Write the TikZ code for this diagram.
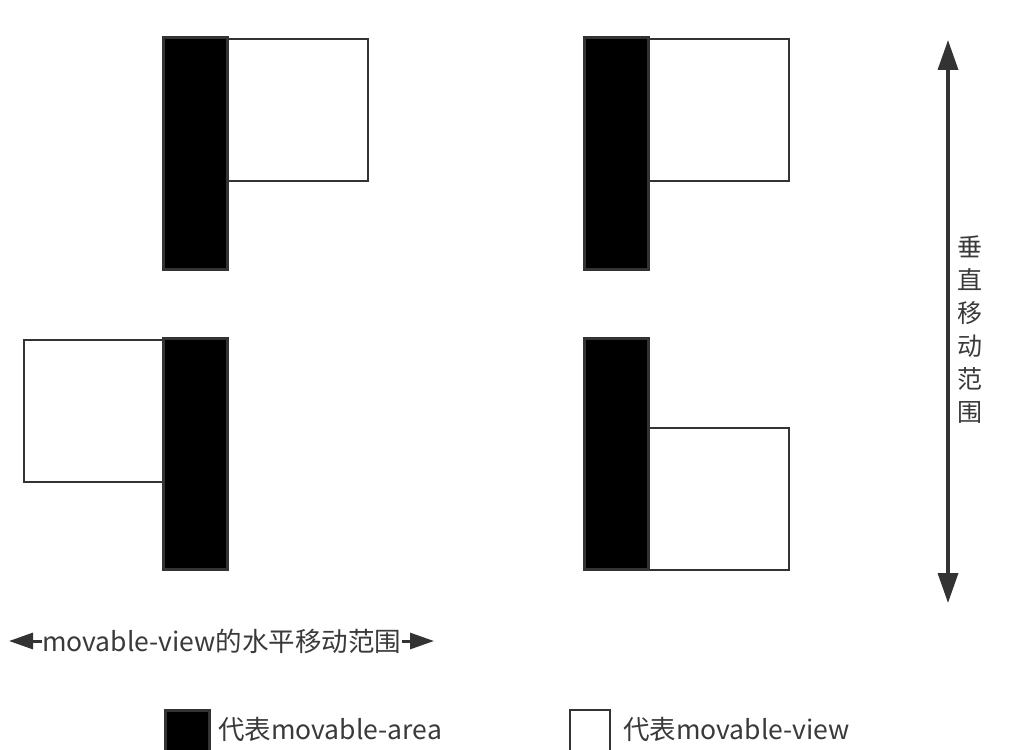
\documentclass[tikz,border=0pt]{standalone}
\usepackage{fontspec}
\setmainfont{Noto Sans CJK SC}
\usetikzlibrary{arrows.meta}
\definecolor{ink}{HTML}{333333}
\definecolor{txt}{HTML}{3A3A3A}
\tikzset{
  area/.style={draw=ink,line width=3pt,fill=black,inner sep=0pt,outer sep=0pt,minimum width=64pt,minimum height=231pt,anchor=north west},
  viewbox/.style={draw=ink,line width=1.6pt,fill=white,inner sep=0pt,outer sep=0pt,minimum width=141pt,minimum height=142pt,anchor=north west},
  lbl/.style={text=txt,font=\fontsize{26.5pt}{30pt}\selectfont,inner sep=0pt},
  bigarrow/.style={draw=ink,line width=3.5pt,{Triangle[length=30pt,width=20pt]}-{Triangle[length=30pt,width=20pt]}},
  smallhead/.style={draw=ink,line width=3pt,-{Triangle[length=24pt,width=16pt]}}
}
\begin{document}
\begin{tikzpicture}[x=1pt,y=-1pt]
\useasboundingbox (0,0) rectangle (1024,749);
% top-left
\node[viewbox] (v1) at (227,39) {};
\node[area] (a1) at (163,38) {};
% top-right
\node[viewbox] (v2) at (648,39) {};
\node[area] (a2) at (584,38) {};
% bottom-left
\node[viewbox,minimum width=139pt] (v3) at (24,340) {};
\node[area] (a3) at (163,338) {};
% bottom-right
\node[viewbox] (v4) at (648,428) {};
\node[area] (a4) at (584,338) {};
% vertical range
\coordinate (vtop) at (948,40);
\coordinate (vbot) at (948,603);
\draw[bigarrow] (vtop) -- (vbot);
\node[lbl,align=center,font=\fontsize{25pt}{33pt}\selectfont] (vt) at (970,330) {垂\\直\\移\\动\\范\\围};
% horizontal range
\node[lbl,anchor=west] (ht) at (42,641) {movable-view的水平移动范围};
\coordinate (hl) at (9,641);
\coordinate (hr) at (434,641);
\draw[smallhead] (ht.west) -- (hl);
\draw[smallhead] (ht.east) -- (hr);
% legend
\node[draw=ink,line width=3pt,fill=black,minimum width=44pt,minimum height=44pt,inner sep=0pt,anchor=north west] (la) at (164,709) {};
\node[lbl,anchor=west] (lat) at (218,729) {代表movable-area};
\node[draw=ink,line width=1.6pt,fill=white,minimum width=40pt,minimum height=44pt,inner sep=0pt,anchor=north west] (lv) at (569,709) {};
\node[lbl,anchor=west] (lvt) at (623,729) {代表movable-view};
\end{tikzpicture}
\end{document}
